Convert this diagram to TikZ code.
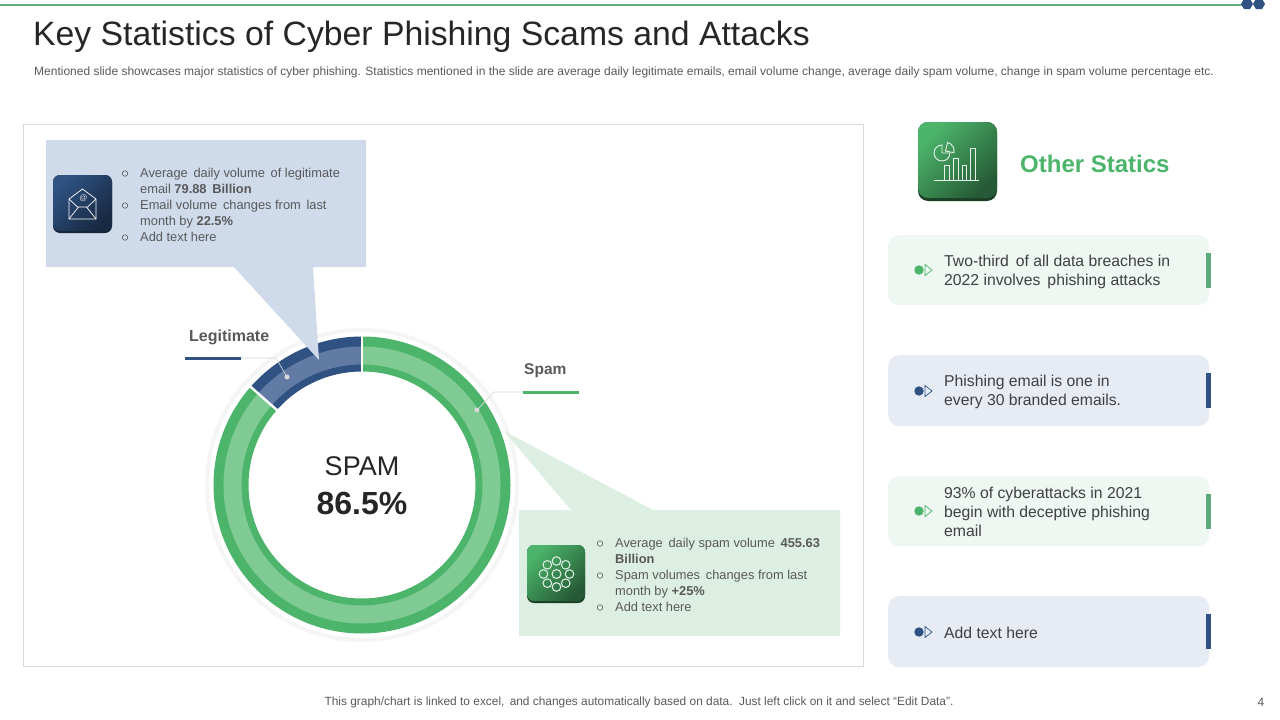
\documentclass[tikz,border=0pt]{standalone}
\usepackage{fontspec}
\setmainfont{Liberation Sans}
\usetikzlibrary{shapes.geometric}

\definecolor{leafgreen}{HTML}{4CB56B}
\definecolor{palegreen}{HTML}{7FCB93}
\definecolor{navyblue}{HTML}{2F5283}
\definecolor{paleblue}{HTML}{617BA5}
\definecolor{calloutblue}{HTML}{CFDAEA}
\definecolor{calloutgreen}{HTML}{DCEFE2}
\definecolor{cardgreen}{HTML}{EEF7F1}
\definecolor{cardblue}{HTML}{E6EBF4}
\definecolor{bodygray}{HTML}{595959}
\definecolor{cardgray}{HTML}{404040}
\definecolor{ruleline}{HTML}{5DAA7C}

\tikzset{
  txt/.style={inner sep=0pt,anchor=west,align=left},
  listtxt/.style={txt,anchor=north west,text=bodygray,font=\fontsize{12.85}{16}\selectfont},
  listdot/.style={circle,draw=bodygray,line width=.6pt,inner sep=0pt,minimum size=5.5pt},
  cardtxt/.style={txt,text=cardgray,font=\fontsize{15.75}{19}\selectfont},
  card/.style={rounded corners=11pt,inner sep=0pt,anchor=north west,minimum width=321pt},
  cardbar/.style={inner sep=0pt,minimum width=5pt,minimum height=35pt},
  leader/.style={draw=black!15,line width=.7pt},
  legend/.style={line width=3pt},
  hexdot/.style={regular polygon,regular polygon sides=6,fill=navyblue,inner sep=0pt,minimum size=12pt},
  cardmark/.pic={
    \fill[#1] (0,0) circle (4.7);
    \draw[#1,line width=.7pt] (6,-5.5) -- (13,0) -- (6,5.5) -- cycle;
  }
}

\begin{document}
\begin{tikzpicture}[x=1pt,y=-1pt]
  \useasboundingbox (0,0) rectangle (1280,720);
  \fill[white] (0,0) rectangle (1280,720);

  % head of the slide
  \draw[ruleline,line width=2pt] (0,4.5) -- (1243,4.5);
  \node[hexdot] (hexa) at (1247,4) {};
  \node[hexdot] (hexb) at (1259,4) {};
  \node[txt,text=black!85,font=\fontsize{33.75}{36}\selectfont] (title) at (33,36.5) {Key Statistics of Cyber Phishing Scams and Attacks};
  \node[txt,text=bodygray,font=\fontsize{12}{14}\selectfont] (subtitle) at (34,72.5) {Mentioned slide showcases major statistics of cyber phishing. Statistics mentioned in the slide are average daily legitimate emails, email volume change, average daily spam volume, change in spam volume percentage etc.};

  % left panel
  \draw[black!15,line width=.8pt] (23.5,124.5) rectangle (863,666);

  % halo and ring
  \fill[black!4] (362,485) circle (157);
  \fill[white] (362,485) circle (153);
  \draw[leafgreen,line width=35pt] (362,485) ++(-90:131) arc[start angle=-90,end angle=221.4,radius=131];
  \draw[palegreen,line width=18pt] (362,485) ++(-90:129.5) arc[start angle=-90,end angle=221.4,radius=129.5];
  \draw[navyblue,line width=35pt] (362,485) ++(-138.6:131) arc[start angle=-138.6,end angle=-90,radius=131];
  \draw[paleblue,line width=18pt] (362,485) ++(-138.6:129.5) arc[start angle=-138.6,end angle=-90,radius=129.5];
  \path (362,485) ++(-90:112) coordinate (ringa) (362,485) ++(-90:150) coordinate (ringb);
  \path (362,485) ++(-138.6:112) coordinate (ringc) (362,485) ++(-138.6:150) coordinate (ringd);
  \draw[white,line width=2.4pt] (ringa) -- (ringb);
  \draw[white,line width=2.4pt] (ringc) -- (ringd);

  \node[text=black!85,inner sep=0pt,font=\fontsize{27}{30}\selectfont] (spamword) at (362,466.5) {SPAM};
  \node[text=black!85,inner sep=0pt,font=\bfseries\fontsize{32}{36}\selectfont] (spamshare) at (362,503) {86.5\%};

  % callouts
  \fill[calloutblue] (46,140) -- (366,140) -- (366,267) -- (313,267) -- (319,360) -- (234,267) -- (46,267) -- cycle;
  \fill[calloutgreen] (519,510) -- (571,510) -- (504,431) -- (653,510) -- (840,510) -- (840,636) -- (519,636) -- cycle;

  % legends
  \coordinate (legbend) at (276,358);
  \coordinate (spambend) at (494,392);
  \node[circle,fill=black!15,inner sep=0pt,minimum size=5pt] (legdot) at (287,377) {};
  \node[circle,fill=black!15,inner sep=0pt,minimum size=5pt] (spamdot) at (477,410) {};
  \node[txt,text=bodygray,font=\bfseries\fontsize{16}{18}\selectfont] (leglabel) at (189,337.5) {Legitimate};
  \node[txt,text=bodygray,font=\bfseries\fontsize{15.5}{18}\selectfont] (spamlabel) at (524,370.5) {Spam};
  \coordinate (legl) at (185,358);
  \coordinate (legr) at (241,358);
  \coordinate (spaml) at (523,392);
  \coordinate (spamr) at (579,392);
  \draw[leader] (legr) -- (legbend) -- (legdot);
  \draw[leader] (spaml) -- (spambend) -- (spamdot);
  \draw[navyblue,legend] (legl) -- (legr);
  \draw[leafgreen,legend] (spaml) -- (spamr);

  % callout text
  \begin{scope}[every node/.style={listdot}]
    \node (ba) at (125,173.5) {};
    \node (bb) at (125,205.5) {};
    \node (bc) at (125,237.5) {};
    \node (ga) at (600,543.5) {};
    \node (gb) at (600,575.5) {};
    \node (gc) at (600,607.5) {};
  \end{scope}
  \node[listtxt] (batxt) at (140,167.5) {Average\, daily volume\, of legitimate\\email \textbf{79.88\, Billion}};
  \node[listtxt] (bbtxt) at (140,199.5) {Email volume\, changes from\, last\\month by \textbf{22.5\%}};
  \node[listtxt] (bctxt) at (140,231.5) {Add text here};
  \node[listtxt] (gatxt) at (615,537.5) {Average\, daily spam volume\, \textbf{455.63}\\\textbf{Billion}};
  \node[listtxt] (gbtxt) at (615,569.5) {Spam volumes\, changes from last\\month by \textbf{+25\%}};
  \node[listtxt] (gctxt) at (615,601.5) {Add text here};

  % mail icon
  \fill[navyblue!45!black,rounded corners=7pt] (53,175) rectangle (112,233);
  \shade[rounded corners=7pt,left color=navyblue,right color=navyblue!50!black,shading angle=45] (53,175) rectangle (112,231);
  \begin{scope}[shift={(82.5,204)},white,line width=.7pt]
    \draw (-13.5,-5) -- (0,-15) -- (13.5,-5) -- (13.5,15) -- (-13.5,15) -- cycle;
    \draw (-13.5,-5) -- (-5,3) -- (5,3) -- (13.5,-5);
    \draw (-13.5,15) -- (-4,3) (13.5,15) -- (4,3);
    \node[text=white!80!navyblue,inner sep=0pt,font=\fontsize{8}{8}\selectfont] (mailat) at (1,-6) {@};
  \end{scope}

  % spam icon
  \fill[leafgreen!35!black,rounded corners=7pt] (527,545) rectangle (585,603);
  \shade[rounded corners=7pt,left color=leafgreen,right color=leafgreen!50!black,shading angle=45] (527,545) rectangle (585,601);
  \begin{scope}[shift={(556.5,574)},white!85!leafgreen,line width=1pt]
    \draw (0,0) circle (4.5);
    \foreach \a in {0,45,...,315} {
      \draw (\a:13) circle (4.3);
    }
  \end{scope}

  % other statics head
  \fill[leafgreen!35!black,rounded corners=10pt] (918,122) rectangle (997,201);
  \shade[rounded corners=10pt,left color=leafgreen,right color=leafgreen!50!black,shading angle=45] (918,122) rectangle (997,198);
  \begin{scope}[white!85!leafgreen,line width=.9pt]
    \draw (934,180) -- (979,180);
    \draw (944.5,180) rectangle (949,165);
    \draw (953.5,180) rectangle (958,158);
    \draw (962,180) rectangle (966.5,165);
    \draw (970,180) rectangle (975,148);
    \draw (950,153) arc[start angle=0,end angle=270,radius=8] -- (942,153) -- cycle;
    \draw (945.5,151) -- (947.5,142.5) arc[start angle=-77,end angle=13,radius=8.5] -- cycle;
  \end{scope}
  \node[txt,text=leafgreen,font=\bfseries\fontsize{24}{26}\selectfont] (otherhead) at (1020,163.5) {Other Statics};

  % cards
  \node[card,fill=cardgreen,minimum height=70pt] (carda) at (888,235) {};
  \node[card,fill=cardblue,minimum height=71pt] (cardb) at (888,355) {};
  \node[card,fill=cardgreen,minimum height=70pt] (cardc) at (888,476) {};
  \node[card,fill=cardblue,minimum height=71pt] (cardd) at (888,596) {};
  \node[cardbar,fill=ruleline] (bara) at (1208.5,270.5) {};
  \node[cardbar,fill=navyblue] (barb) at (1208.5,390.5) {};
  \node[cardbar,fill=ruleline] (barc) at (1208.5,511) {};
  \node[cardbar,fill=navyblue] (bard) at (1208.5,631.5) {};
  \pic at (919,270) {cardmark=leafgreen};
  \pic at (919,391) {cardmark=navyblue};
  \pic at (919,511) {cardmark=leafgreen};
  \pic at (919,632) {cardmark=navyblue};
  \node[cardtxt] (cardatxt) at (944,272) {Two-third\, of all data breaches in\\2022 involves\, phishing attacks};
  \node[cardtxt] (cardbtxt) at (944,392) {Phishing email is one in\\every 30 branded emails.};
  \node[cardtxt] (cardctxt) at (944,512) {93\% of cyberattacks in 2021\\begin with deceptive phishing\\email};
  \node[cardtxt] (carddtxt) at (944,633) {Add text here};

  % foot of the slide
  \node[text=bodygray,inner sep=0pt,font=\fontsize{11.9}{14}\selectfont] (footnote) at (639,702.5) {This graph/chart is linked to excel,\, and changes automatically based on data.\, Just left click on it and select “Edit Data”.};
  \node[text=bodygray,inner sep=0pt,font=\fontsize{11.9}{14}\selectfont] (pagenum) at (1261,702.5) {4};
\end{tikzpicture}
\end{document}
